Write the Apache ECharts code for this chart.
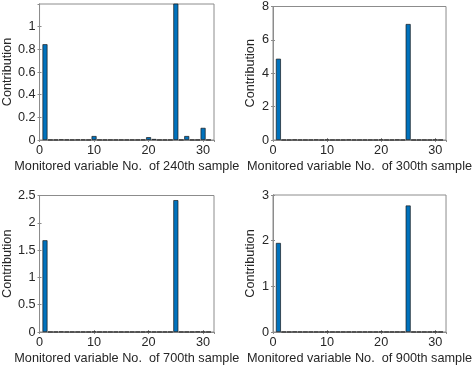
<!DOCTYPE html>
<html><head><meta charset="utf-8">
<script src="https://cdn.jsdelivr.net/npm/echarts@6/dist/echarts.min.js"></script>
<style>html,body{margin:0;padding:0;background:#fff}#c{width:474px;height:366px}</style>
</head><body><div id="c"></div>
<script>
// Variable numbers 1..31
const variables = [1,2,3,4,5,6,7,8,9,10,11,12,13,14,15,16,17,18,19,20,21,22,23,24,25,26,27,28,29,30,31];
// Contributions, 240th sample (bar 25 exceeds the axis limit)
const contrib240 = [0.845,0.002,0.002,0.004,0.003,0.002,0.003,0.003,0.002,0.035,0.002,0.002,0.002,0.002,0.002,0.002,0.002,0.002,0.003,0.025,0.009,0.002,0.002,0.002,1.5,0.002,0.035,0.002,0.002,0.107,0.002];
// Contributions, 300th sample
const contrib300 = [4.87,0.01,0.01,0.02,0.01,0.01,0.01,0.02,0.01,0.02,0.01,0.01,0.01,0.02,0.01,0.01,0.01,0.01,0.01,0.02,0.01,0.01,0.02,0.01,6.95,0.01,0.01,0.01,0.01,0.02,0.01];
// Contributions, 700th sample
const contrib700 = [1.68,0.003,0.003,0.006,0.003,0.003,0.003,0.003,0.003,0.006,0.003,0.003,0.003,0.003,0.003,0.003,0.003,0.003,0.003,0.006,0.003,0.003,0.003,0.003,2.415,0.003,0.003,0.003,0.006,0.003,0.003];
// Contributions, 900th sample
const contrib900 = [1.95,0.004,0.004,0.006,0.004,0.004,0.004,0.004,0.004,0.006,0.004,0.004,0.004,0.004,0.004,0.004,0.004,0.004,0.004,0.006,0.004,0.004,0.004,0.004,2.77,0.004,0.004,0.004,0.004,0.006,0.004];
const sampleNames = ['240th','300th','700th','900th'];
const yMax = [1.2, 8, 2.5, 3];
const yInterval = [0.2, 2, 0.5, 1];
const xTicks = [0, 10, 20, 30];

const allData = [contrib240, contrib300, contrib700, contrib900];
const grids = [
  {left:35, top:4, width:179, height:136},
  {left:273, top:4, width:179, height:136},
  {left:36, top:195.5, width:178, height:136.5},
  {left:273, top:195, width:179, height:137}
];
const yNameGap = [24, 16, 24, 16];
const textColor = '#262626';
const axisColor = '#8c8c8c';
const font = 'Liberation Sans, Arial, sans-serif';

const option = {animation:false, grid:[], xAxis:[], yAxis:[], series:[]};
grids.forEach((g, i) => {
  option.grid.push(Object.assign({show:true, borderColor:axisColor, borderWidth:1, backgroundColor:'#fff'}, g));
  const common = {gridIndex:i, min:0, max:32, interval:10, splitLine:{show:false},
    axisLine:{show:true, lineStyle:{color:axisColor, width:1}},
    axisTick:{show:true, inside:true, length:2, lineStyle:{color:axisColor}}};
  option.xAxis.push(Object.assign({}, common, {type:'value', position:'bottom',
    name:'Monitored variable No.  of ' + sampleNames[i] + ' sample', nameLocation:'middle', nameGap:20,
    nameTextStyle:{fontSize:12.7, color:textColor, fontFamily:font},
    axisLabel:{margin:4, fontSize:12.7, color:textColor, fontFamily:font, showMaxLabel:false,
      formatter: v => xTicks.includes(v) ? String(v) : ''}}));
  option.xAxis.push(Object.assign({}, common, {type:'value', position:'top', axisLabel:{show:false}}));
  const ycommon = {gridIndex:i, min:0, max:yMax[i], interval:yInterval[i], splitLine:{show:false},
    axisLine:{show:true, lineStyle:{color:axisColor, width:1}},
    axisTick:{show:true, inside:true, length:2, lineStyle:{color:axisColor}}};
  option.yAxis.push(Object.assign({}, ycommon, {type:'value', position:'left',
    name:'Contribution', nameLocation:'middle', nameGap:yNameGap[i],
    nameTextStyle:{fontSize:12.7, color:textColor, fontFamily:font},
    axisLabel:{margin:4, fontSize:12.7, color:textColor, fontFamily:font, showMaxLabel: i !== 0}}));
  option.yAxis.push(Object.assign({}, ycommon, {type:'value', position:'right', axisLabel:{show:false}}));
  option.series.push({type:'bar', xAxisIndex:2*i, yAxisIndex:2*i, barWidth:5, clip:true,
    itemStyle:{color:'#0072BD', borderColor:'#1a1a1a', borderWidth:0.7},
    data: variables.map((v, k) => [v, allData[i][k]])});
});
const chart = echarts.init(document.getElementById('c'), null, {renderer:'canvas'});
chart.setOption(option);
</script></body></html>
